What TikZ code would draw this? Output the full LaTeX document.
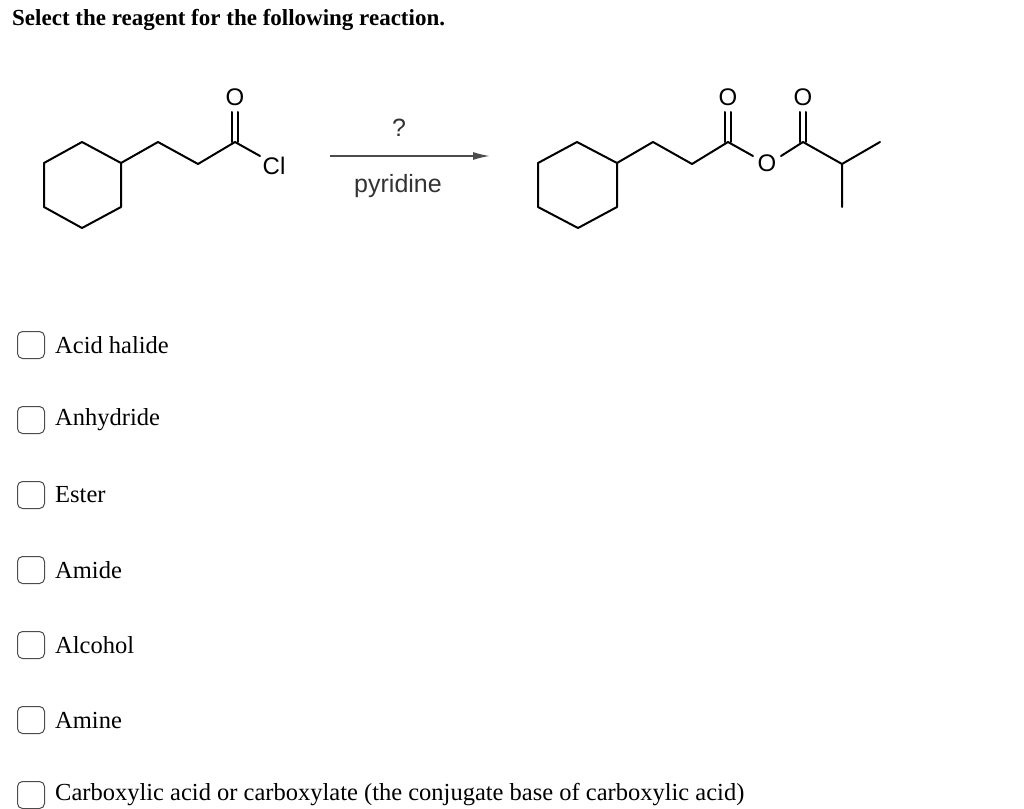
\documentclass[tikz,border=0pt]{standalone}
\usepackage{fontspec}
\usetikzlibrary{arrows.meta}
\setmainfont{Liberation Serif}
\newfontfamily\arial{Liberation Sans}
\begin{document}
\begin{tikzpicture}[x=1pt,y=-1pt,
  bond/.style={line width=2pt,line join=round,line cap=round},
  atom/.style={font=\arial\fontsize{24}{24}\selectfont,inner sep=0pt,fill=white},
  opt/.style={font=\fontsize{24.5}{28}\selectfont,anchor=west,inner sep=0pt},
  cbox/.style={draw=black!70,line width=1pt,rounded corners=5pt,minimum size=27pt,inner sep=0pt}]
\useasboundingbox (0,0) rectangle (1024,808);
\node[font=\bfseries\fontsize{23}{27}\selectfont,anchor=west,inner sep=0pt] (title) at (12,20) {Select the reagent for the following reaction.};
% reactant
\draw[bond] (82,142)--(121,163)--(121,207)--(82,228)--(44,207)--(44,163)--cycle;
\draw[bond] (121,163)--(158,142)--(198,164)--(235,142)--(260,156);
\draw[bond] (232,142)--(232,112) (238,142)--(238,112);
\node[atom] (o1) at (235,97) {O};
\node[atom] (cl) at (274,166) {Cl};
% arrow
\coordinate (a1) at (330,156); \coordinate (a2) at (490,156);
\draw[line width=1.6pt,draw=black!70,-{Latex[length=17pt,width=8pt]}] (a1)--(a2);
\node[font=\arial\fontsize{25}{25}\selectfont,text=black!80] (q) at (399,128) {?};
\node[font=\arial\fontsize{25}{25}\selectfont,text=black!80] (py) at (398,186) {pyridine};
% product
\draw[bond] (577,142)--(617,163)--(617,207)--(578,228)--(538,207)--(538,163)--cycle;
\draw[bond] (617,163)--(653,142)--(692,164)--(728,142)--(753,156);
\draw[bond] (781,156)--(803,142)--(842,164)--(880,142) (842,164)--(842,207);
\draw[bond] (725,142)--(725,112) (731,142)--(731,112);
\draw[bond] (800,142)--(800,112) (806,142)--(806,112);
\node[atom] (o2) at (728,97) {O};
\node[atom] (o3) at (803,97) {O};
\node[atom] (o4) at (767,163) {O};
% options
\foreach \y/\t [count=\i] in {345/Acid halide,420/Anhydride,495/Ester,570/Amide,645/Alcohol,720/Amine,795/Carboxylic acid or carboxylate (the conjugate base of carboxylic acid)}{
  \node[cbox] (b\i) at (31,\y) {};
  \node[opt] (t\i) at (55,\y) {\t};
}
\end{tikzpicture}
\end{document}
